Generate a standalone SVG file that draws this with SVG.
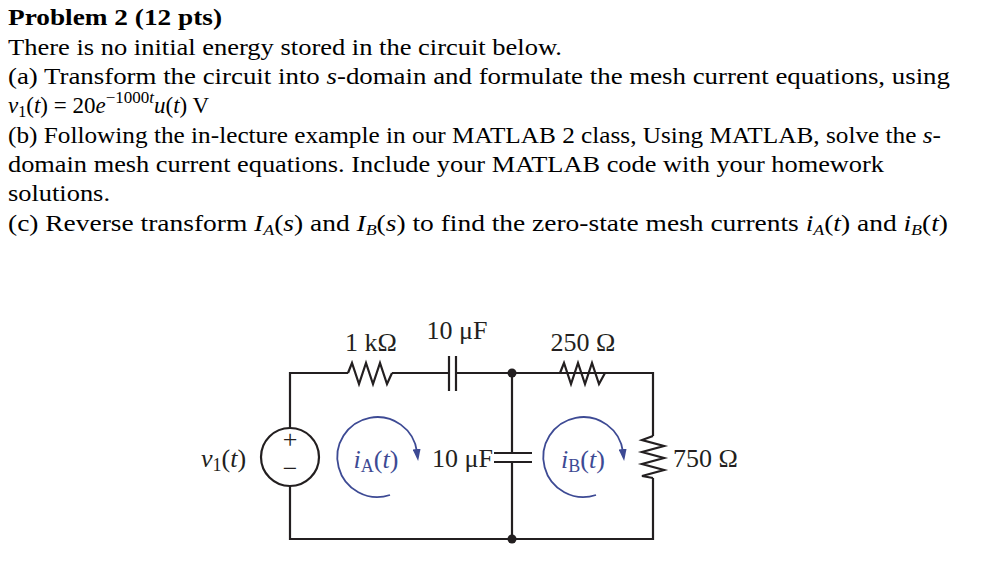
<svg xmlns="http://www.w3.org/2000/svg" width="982" height="567" viewBox="0 0 982 567">
<style>
.t{font-family:"Liberation Serif",serif;font-size:23px;fill:#000}
.b{font-weight:bold}
.i{font-style:italic}
.c{font-family:"Liberation Serif",serif;font-size:26px;fill:#231f20}
.m{font-family:"Liberation Serif",serif;font-size:26px;fill:#3d4a94}
.w{fill:none;stroke:#231f20;stroke-width:2.2}
.arc{fill:none;stroke:#3d4a94;stroke-width:1.8}
</style>
<defs><marker id="ah" markerWidth="12" markerHeight="8" refX="3" refY="4" orient="auto" markerUnits="userSpaceOnUse" viewBox="0 0 12 8"><path d="M0,0 L12,4 L0,8 Z" fill="#3d4a94"/></marker></defs>
<rect width="982" height="567" fill="#fff"/>
<g id="text">
<text class="t b" x="8" y="25" textLength="214" lengthAdjust="spacingAndGlyphs">Problem 2 (12 pts)</text>
<text class="t" x="8" y="55" textLength="554" lengthAdjust="spacingAndGlyphs">There is no initial energy stored in the circuit below.</text>
<text class="t" x="8" y="84" textLength="942" lengthAdjust="spacingAndGlyphs">(a) Transform the circuit into <tspan class="i">s</tspan>-domain and formulate the mesh current equations, using</text>
<text class="t" x="8" y="113" font-size="24"><tspan class="i">v</tspan><tspan font-size="16" dy="4">1</tspan><tspan dy="-4">(</tspan><tspan class="i">t</tspan>) = 20<tspan class="i">e</tspan><tspan font-size="17" dy="-10">−1000<tspan class="i">t</tspan></tspan><tspan class="i" dy="10">u</tspan>(<tspan class="i">t</tspan>) V</text>
<text class="t" x="8" y="143" textLength="933" lengthAdjust="spacingAndGlyphs">(b) Following the in-lecture example in our MATLAB 2 class, Using MATLAB, solve the <tspan class="i">s</tspan>-</text>
<text class="t" x="8" y="172" textLength="876" lengthAdjust="spacingAndGlyphs">domain mesh current equations. Include your MATLAB code with your homework</text>
<text class="t" x="8" y="201" textLength="102" lengthAdjust="spacingAndGlyphs">solutions.</text>
<text class="t" x="8" y="231" textLength="940" lengthAdjust="spacingAndGlyphs">(c) Reverse transform <tspan class="i">I</tspan><tspan class="i" font-size="15" dy="4">A</tspan><tspan dy="-4">(</tspan><tspan class="i">s</tspan>) and <tspan class="i">I</tspan><tspan class="i" font-size="15" dy="4">B</tspan><tspan dy="-4">(</tspan><tspan class="i">s</tspan>) to find the zero-state mesh currents <tspan class="i">i</tspan><tspan class="i" font-size="15" dy="4">A</tspan><tspan dy="-4">(</tspan><tspan class="i">t</tspan>) and <tspan class="i">i</tspan><tspan class="i" font-size="15" dy="4">B</tspan><tspan dy="-4">(</tspan><tspan class="i">t</tspan>)</text>
</g>
<g id="connectors">
<path class="w" d="M290,428 V373 H348 M392,373 H449 M456,373 H653 V436 M653,478 V539 H290 V486 M512,373 V453 M512,462 V539"/>
</g>
<g id="R1"><path class="w" d="M348,373 L352,363 L359,384 L366,363 L373,384 L380,363 L387,384 L392,373"/><text class="c" x="371" y="351" text-anchor="middle">1 kΩ</text></g>
<g id="C1"><path class="w" d="M449,356 V391 M456,356 V391"/><text class="c" x="457" y="339" text-anchor="middle">10 μF</text></g>
<g id="R2"><path class="w" d="M560,373 L564,363 L571,384 L578,363 L585,384 L592,363 L599,384 L605,373"/><text class="c" x="583" y="351" text-anchor="middle">250 Ω</text></g>
<g id="R3"><path class="w" d="M653,436 L642,440 L664,446 L642,452 L664,458 L642,464 L664,470 L642,476 L653,478"/><text class="c" x="673" y="467">750 Ω</text></g>
<g id="C2"><path class="w" d="M494,453 H532 M494,462 H532"/><text class="c" x="493" y="467" text-anchor="end">10 μF</text></g>
<g id="V1"><circle class="w" cx="290" cy="457" r="29"/><text class="c" x="290" y="448" text-anchor="middle" font-size="20">+</text><text class="c" x="290" y="477" text-anchor="middle" font-size="20">−</text><text class="c" x="201" y="467"><tspan class="i">v</tspan><tspan font-size="18" dy="4">1</tspan><tspan dy="-4">(</tspan><tspan class="i">t</tspan>)</text></g>
<g id="nodes"><circle cx="512" cy="373" r="4.5" fill="#231f20"/><circle cx="512" cy="539" r="4.5" fill="#231f20"/></g>
<g id="meshA"><path class="arc" d="M390,495 A40,40 0 1 1 417,452" marker-end="url(#ah)"/><text class="m" x="376" y="468" text-anchor="middle"><tspan class="i">i</tspan><tspan font-size="18" dy="4">A</tspan><tspan dy="-4">(</tspan><tspan class="i">t</tspan>)</text></g>
<g id="meshB"><path class="arc" d="M596,495 A40,40 0 1 1 623,452" marker-end="url(#ah)"/><text class="m" x="583" y="468" text-anchor="middle"><tspan class="i">i</tspan><tspan font-size="18" dy="4">B</tspan><tspan dy="-4">(</tspan><tspan class="i">t</tspan>)</text></g>
</svg>
